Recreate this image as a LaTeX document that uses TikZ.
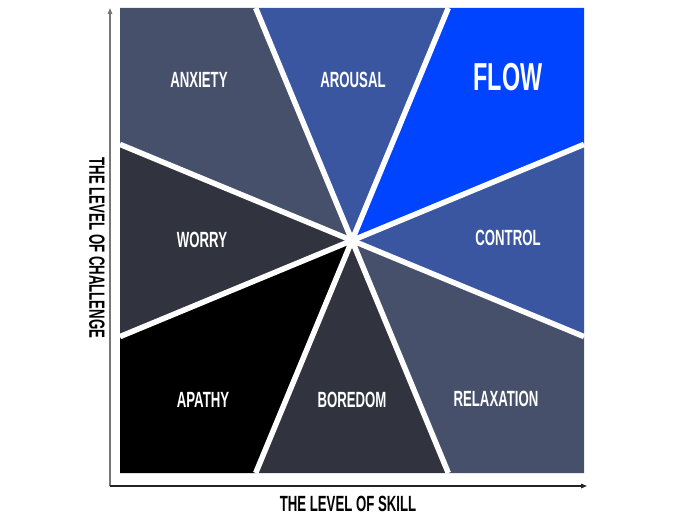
\documentclass[tikz,border=0pt]{standalone}
\usepackage{fontspec}
\setmainfont{Liberation Sans}
\usetikzlibrary{arrows.meta}
\definecolor{cAnx}{HTML}{47506A}
\definecolor{cAro}{HTML}{3A56A0}
\definecolor{cFlow}{HTML}{0044FF}
\definecolor{cWor}{HTML}{31343F}
\definecolor{cAxV}{HTML}{777777}
\definecolor{cAxH}{HTML}{222222}
\newcommand{\cond}[1]{\scalebox{0.6}[1]{\bfseries #1}}
\tikzset{
  sector/.style={draw=none},
  divider/.style={draw=white, line width=5.5pt},
  lbl/.style={text=white, inner sep=0pt, font=\fontsize{22}{22}\selectfont},
  biglbl/.style={text=white, inner sep=0pt, font=\fontsize{39}{39}\selectfont},
  axlbl/.style={text=black, inner sep=0pt, font=\fontsize{22}{22}\selectfont},
  axis/.style={line width=1.3pt, -{Triangle[length=6pt,width=4.5pt]}}
}
\begin{document}
\begin{tikzpicture}[x=1pt,y=-1pt]
\useasboundingbox (0,0) rectangle (685,532);
% key points
\coordinate (C) at (352,240.5);
\coordinate (TL) at (120,8);
\coordinate (TR) at (584,8);
\coordinate (BR) at (584,473);
\coordinate (BL) at (120,473);
\coordinate (P1) at (255.7,8);
\coordinate (P2) at (448.3,8);
\coordinate (P3) at (584,144.4);
\coordinate (P4) at (584,336.6);
\coordinate (P5) at (448.3,473);
\coordinate (P6) at (255.7,473);
\coordinate (P7) at (120,336.6);
\coordinate (P8) at (120,144.4);
% sectors
\fill[sector, cAnx]  (C) -- (P8) -- (TL) -- (P1) -- cycle;
\fill[sector, cAro]  (C) -- (P1) -- (P2) -- cycle;
\fill[sector, cFlow] (C) -- (P2) -- (TR) -- (P3) -- cycle;
\fill[sector, cAro]  (C) -- (P3) -- (P4) -- cycle;
\fill[sector, cAnx]  (C) -- (P4) -- (BR) -- (P5) -- cycle;
\fill[sector, cWor]  (C) -- (P5) -- (P6) -- cycle;
\fill[sector, black] (C) -- (P6) -- (BL) -- (P7) -- cycle;
\fill[sector, cWor]  (C) -- (P7) -- (P8) -- cycle;
% dividers
\draw[divider] (P1) -- (P5);
\draw[divider] (P2) -- (P6);
\draw[divider] (P8) -- (P4);
\draw[divider] (P7) -- (P3);
% labels
\node[lbl] (anx) at (199,80) {\cond{ANXIETY}};
\node[lbl] (aro) at (353,80) {\cond{AROUSAL}};
\node[biglbl] (flow) at (508,77) {\cond{FLOW}};
\node[lbl] (wor) at (202,240) {\cond{WORRY}};
\node[lbl] (con) at (508,238) {\cond{CONTROL}};
\node[lbl] (apa) at (203,400) {\cond{APATHY}};
\node[lbl] (bor) at (352,400) {\cond{BOREDOM}};
\node[lbl] (rel) at (496,399) {\cond{RELAXATION}};
% axes
\coordinate (O) at (110,486);
\coordinate (Ytop) at (110,8);
\coordinate (Xend) at (587,486);
\draw[axis, cAxV] (O) -- (Ytop);
\draw[axis, cAxH] (O) -- (Xend);
\node[axlbl] (xl) at (348,504) {\cond{THE LEVEL OF SKILL}};
\node[axlbl, rotate=-90] (yl) at (97,248) {\cond{THE LEVEL OF CHALLENGE}};
\end{tikzpicture}
\end{document}
